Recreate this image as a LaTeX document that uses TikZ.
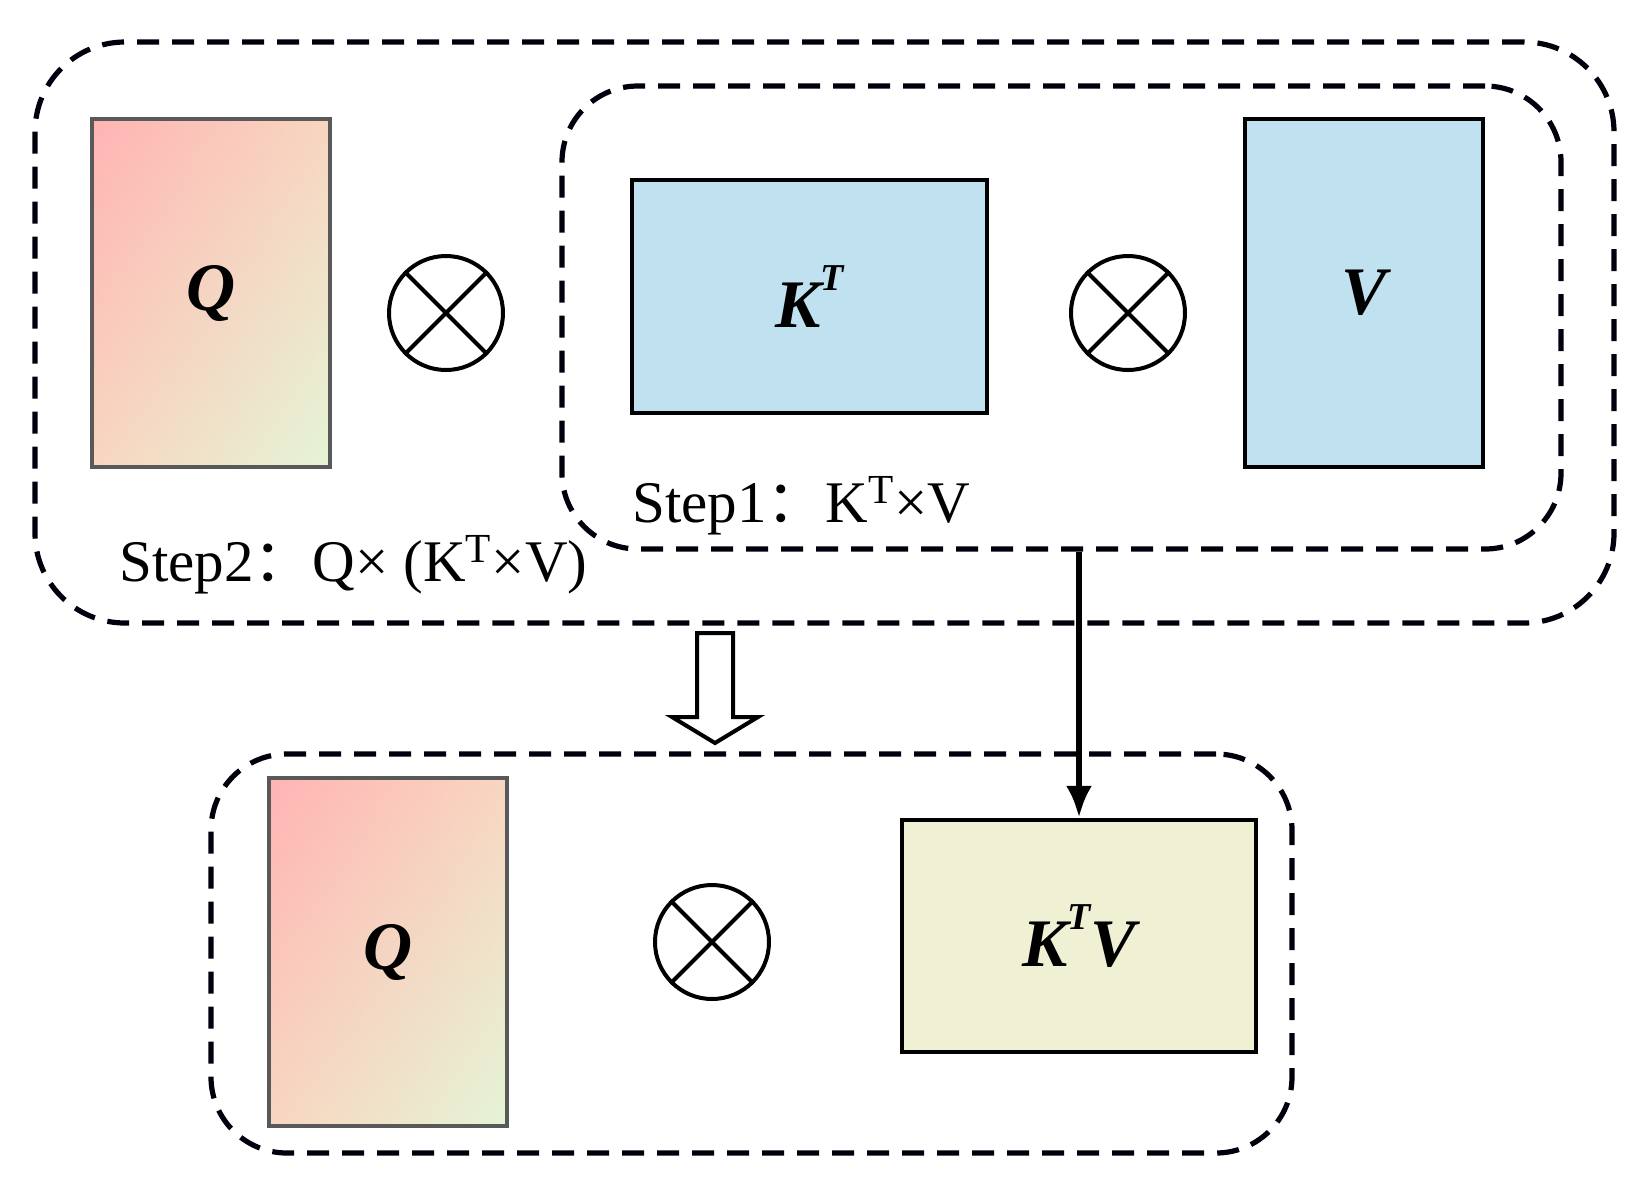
\documentclass[tikz,border=0pt]{standalone}
\usepackage{fontspec}
\setmainfont{Liberation Serif}
\newfontfamily\cjk{Noto Sans CJK SC}
\usetikzlibrary{shadings,arrows.meta}
\begin{document}
\begin{tikzpicture}[x=0.5pt,y=-0.5pt,
  grp/.style={draw=black!95!blue,line width=2.6pt,dash pattern=on 11pt off 6.5pt,rounded corners=45pt,inner sep=0pt},
  mat/.style={draw=black,line width=2.2pt,inner sep=0pt,font=\fontsize{34}{38}\selectfont\bfseries\itshape},
  qbox/.style={draw=black!65,line width=2.2pt,inner sep=0pt,minimum width=119pt,minimum height=174pt,font=\fontsize{34}{38}\selectfont\bfseries\itshape},
  otimes/.style={circle,draw,line width=2pt,minimum size=57pt,inner sep=0pt},
  lbl/.style={font=\fontsize{29.5}{34}\selectfont,anchor=base west,inner sep=0pt}]
\useasboundingbox (0,0) rectangle (1645,1185);
\definecolor{pinkq}{RGB}{255,180,180}
\definecolor{greenq}{RGB}{228,244,214}
\definecolor{midq}{RGB}{248,214,192}
\definecolor{blueb}{RGB}{192,226,240}
\definecolor{yelb}{RGB}{240,240,212}
% group boxes
\node[grp,minimum width=789.5pt,minimum height=290.5pt] (outer) at (824.5,332.5) {};
\node[grp,minimum width=499.5pt,minimum height=231.5pt,rounded corners=38pt] (inner) at (1061.5,317.5) {};
\node[grp,minimum width=540.5pt,minimum height=199.5pt,rounded corners=38pt] (bottom) at (751.5,953.5) {};
% Q top
\shade[upper left=pinkq,lower right=greenq,upper right=midq,lower left=midq] (92,119) rectangle (330,467);
\node[qbox] (q1) at (211,293) {Q};
\node[otimes] (o1) at (446,313) {};
\draw[line width=2pt] (o1.north west) -- (o1.south east) (o1.north east) -- (o1.south west);
\node[mat,fill=blueb,minimum width=177.5pt,minimum height=116.5pt] (kt) at (809.5,296.5) {K\raisebox{0.55em}{\fontsize{19}{20}\selectfont T}};
\node[otimes] (o2) at (1128,313) {};
\draw[line width=2pt] (o2.north west) -- (o2.south east) (o2.north east) -- (o2.south west);
\node[mat,fill=blueb,minimum width=119pt,minimum height=174pt] (v) at (1364,293) {V};
\node[lbl] (s1) at (632,522) {Step1{\cjk ：}K\textsuperscript{T}×V};
\node[lbl] (s2) at (119,581) {Step2{\cjk ：}Q× (K\textsuperscript{T}×V)};
% hollow arrow
\draw[line width=2pt,fill=white] (697,633) -- (733,633) -- (733,717) -- (758,717) -- (715,743) -- (672,717) -- (697,717) -- cycle;
% bottom
\shade[upper left=pinkq,lower right=greenq,upper right=midq,lower left=midq] (269,778) rectangle (507,1126);
\node[qbox] (q2) at (388,952) {Q};
\node[otimes] (o3) at (712,942) {};
\draw[line width=2pt] (o3.north west) -- (o3.south east) (o3.north east) -- (o3.south west);
\node[mat,fill=yelb,minimum width=177pt,minimum height=116pt] (ktv) at (1079,936) {K\raisebox{0.55em}{\fontsize{19}{20}\selectfont T}V};
\draw[line width=3pt,-{Latex[length=16pt,width=13pt]}] (inner.south -| ktv.north) -- (ktv.north);
\end{tikzpicture}
\end{document}
